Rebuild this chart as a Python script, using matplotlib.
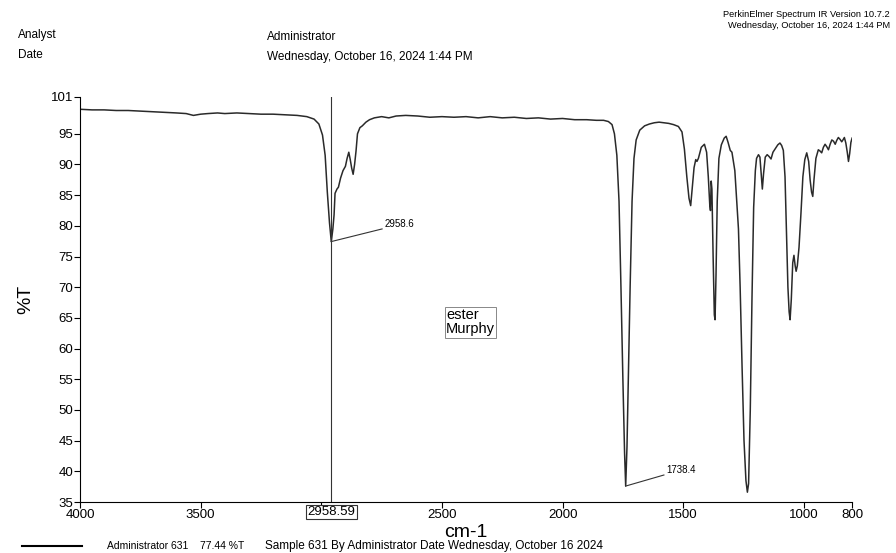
import matplotlib.pyplot as plt
from matplotlib.lines import Line2D

plt.rcParams['font.family'] = ['Liberation Sans', 'DejaVu Sans']

# IR spectrum (wavenumber cm-1, %T)
wavenumber = [
    4000, 3950, 3900, 3850, 3800, 3750, 3700, 3650, 3600, 3560, 3530, 3500,
    3470, 3430, 3400, 3350, 3300, 3250, 3200, 3150, 3100, 3060, 3030, 3010,
    2995, 2984, 2975, 2966, 2958.6, 2952, 2947, 2943, 2935, 2929, 2920, 2910,
    2900, 2893, 2886, 2880, 2874, 2868, 2862, 2856, 2850, 2840, 2830, 2815,
    2800, 2780, 2750, 2720, 2690, 2650, 2600, 2550, 2500, 2450, 2400, 2350,
    2300, 2250, 2200, 2150, 2100, 2050, 2000, 1950, 1900, 1860, 1830, 1810,
    1795, 1785, 1775, 1766, 1758, 1750, 1743, 1738.4, 1733, 1727, 1720, 1712,
    1704, 1695, 1680, 1660, 1640, 1620, 1600, 1580, 1560, 1540, 1520, 1505,
    1495, 1485, 1476, 1469, 1462, 1455, 1448, 1443, 1437, 1425, 1412, 1403,
    1396, 1390, 1387, 1384, 1381, 1376, 1371, 1368, 1364, 1359, 1352, 1342,
    1330, 1322, 1314, 1305, 1298, 1286, 1278, 1271, 1264, 1256, 1248, 1240,
    1234, 1229, 1222, 1215, 1208, 1201, 1196, 1188, 1182, 1177, 1172, 1167,
    1160, 1152, 1144, 1136, 1128, 1118, 1108, 1099, 1092, 1085, 1078, 1072,
    1066, 1061, 1057, 1052, 1046, 1041, 1036, 1032, 1027, 1020, 1012, 1004,
    996, 988, 980, 974, 968, 963, 958, 950, 940, 933, 926, 919, 912, 905,
    898, 891, 884, 877, 870, 864, 857, 850, 843, 838, 832, 826, 820, 815,
    810, 805, 800,
]
transmittance = [
    99.0, 98.9, 98.9, 98.8, 98.8, 98.7, 98.6, 98.5, 98.4, 98.3, 98.0, 98.2,
    98.3, 98.4, 98.3, 98.4, 98.3, 98.2, 98.2, 98.1, 98.0, 97.8, 97.4, 96.6,
    94.8, 91.5, 85.5, 80.5, 77.44, 79.5, 81.8, 85.3, 86.0, 86.3, 87.8, 89.0,
    89.7, 91.0, 92.0, 90.8, 89.4, 88.4, 90.0, 92.2, 95.0, 96.0, 96.3, 96.9,
    97.3, 97.6, 97.8, 97.6, 97.9, 98.0, 97.9, 97.7, 97.8, 97.7, 97.8, 97.6,
    97.8, 97.6, 97.7, 97.5, 97.6, 97.4, 97.5, 97.3, 97.3, 97.2, 97.2, 97.0,
    96.5, 95.0, 91.5, 84.0, 70.0, 55.0, 43.0, 37.6, 44.0, 56.0, 70.0, 84.0,
    91.0, 94.0, 95.6, 96.3, 96.6, 96.8, 96.9, 96.8, 96.7, 96.5, 96.2, 95.3,
    92.5, 88.0, 84.5, 83.3, 86.5, 89.5, 90.8, 90.5, 91.0, 92.8, 93.3, 92.0,
    88.0, 83.5, 82.5, 87.3, 86.0, 75.0, 65.5, 64.7, 72.0, 84.0, 91.0, 93.2,
    94.3, 94.6, 93.6, 92.3, 92.0, 89.0, 84.0, 79.5, 70.0, 57.0, 45.0, 38.5,
    36.6, 38.0, 50.0, 68.0, 83.0, 89.0, 91.0, 91.6, 91.2, 88.5, 86.0, 88.5,
    91.2, 91.6, 91.3, 90.9, 92.0, 92.6, 93.2, 93.5, 93.1, 92.3, 88.0, 79.0,
    70.0, 66.0, 64.7, 68.0, 74.0, 75.2, 73.5, 72.6, 73.5, 76.5, 82.0, 88.0,
    90.8, 91.9, 90.5, 87.5, 85.5, 84.8, 87.5, 91.0, 92.4, 92.2, 91.9, 92.8,
    93.3, 92.9, 92.4, 93.3, 94.0, 93.8, 93.3, 93.9, 94.4, 94.1, 93.7, 94.0,
    94.4, 93.5, 92.0, 90.5, 91.8, 93.6, 94.3,
]

peak_positions = [2958.6, 1738.4]
peak_values = [77.44, 37.6]
peak_labels = ["2958.6", "1738.4"]
label_positions = [(2738, 80.3), (1570, 40.2)]

x_ticks = [4000, 3500, 3000, 2500, 2000, 1500, 1000, 800]
x_tick_labels = ["4000", "3500", "", "2500", "2000", "1500", "1000", "800"]
y_ticks = [35, 40, 45, 50, 55, 60, 65, 70, 75, 80, 85, 90, 95, 101]

fig = plt.figure(figsize=(8.96, 5.53), dpi=100)
ax = fig.add_axes([0.0893, 0.0922, 0.8617, 0.7324])

ax.plot(wavenumber, transmittance, color='#2a2a2a', linewidth=1.1)
ax.set_xlim(4000, 800)
ax.set_ylim(35, 101)

ax.spines['top'].set_visible(False)
ax.spines['right'].set_visible(False)
ax.spines['left'].set_linewidth(0.8)
ax.spines['bottom'].set_linewidth(0.8)
ax.set_xticks(x_ticks)
ax.set_xticklabels(x_tick_labels)
ax.set_yticks(y_ticks)
ax.tick_params(direction='out', length=4, width=0.8, labelsize=9.5, pad=1)

ax.set_xlabel("cm-1", fontsize=14, labelpad=2)
ax.set_ylabel("%T", fontsize=14, labelpad=12)

# cursor line at the selected peak
ax.axvline(2958.59, color='#333333', linewidth=0.8)
ax.text(2958.59, -0.025, "2958.59", transform=ax.get_xaxis_transform(),
        ha='center', va='center', fontsize=9.5, zorder=5, clip_on=False,
        bbox=dict(boxstyle='square,pad=0.1', facecolor='white',
                  edgecolor='#333333', linewidth=0.8))

for wn, val, lab, (tx, ty) in zip(peak_positions, peak_values, peak_labels,
                                  label_positions):
    ax.plot([wn, tx + 10], [val, ty - 0.8], color='#333333', linewidth=0.8)
    ax.text(tx, ty, lab, fontsize=7, ha='left', va='center')

ax.text(2483, 66.6, "ester\nMurphy", fontsize=10.5, ha='left', va='top',
        linespacing=1.0,
        bbox=dict(boxstyle='square,pad=0.1', facecolor='white',
                  edgecolor='#888888', linewidth=0.7))

# header
fig.text(0.020, 0.937, "Analyst", fontsize=8.5, va='center')
fig.text(0.020, 0.900, "Date", fontsize=8.5, va='center')
fig.text(0.298, 0.933, "Administrator", fontsize=8.5, va='center')
fig.text(0.298, 0.897, "Wednesday, October 16, 2024 1:44 PM", fontsize=8.5,
         va='center')
fig.text(0.993, 0.973, "PerkinElmer Spectrum IR Version 10.7.2", fontsize=6.7,
         ha='right', va='center')
fig.text(0.993, 0.953, "Wednesday, October 16, 2024 1:44 PM", fontsize=6.7,
         ha='right', va='center')

# footer legend
fig.add_artist(Line2D([0.024, 0.092], [0.012, 0.012], color='black',
                      linewidth=1.5, transform=fig.transFigure))
fig.text(0.119, 0.012, "Administrator 631", fontsize=7.5, va='center')
fig.text(0.223, 0.012, "77.44 %T", fontsize=7.5, va='center')
fig.text(0.296, 0.012,
         "Sample 631 By Administrator Date Wednesday, October 16 2024",
         fontsize=8.5, va='center')

fig.savefig("out.png", dpi=100)
